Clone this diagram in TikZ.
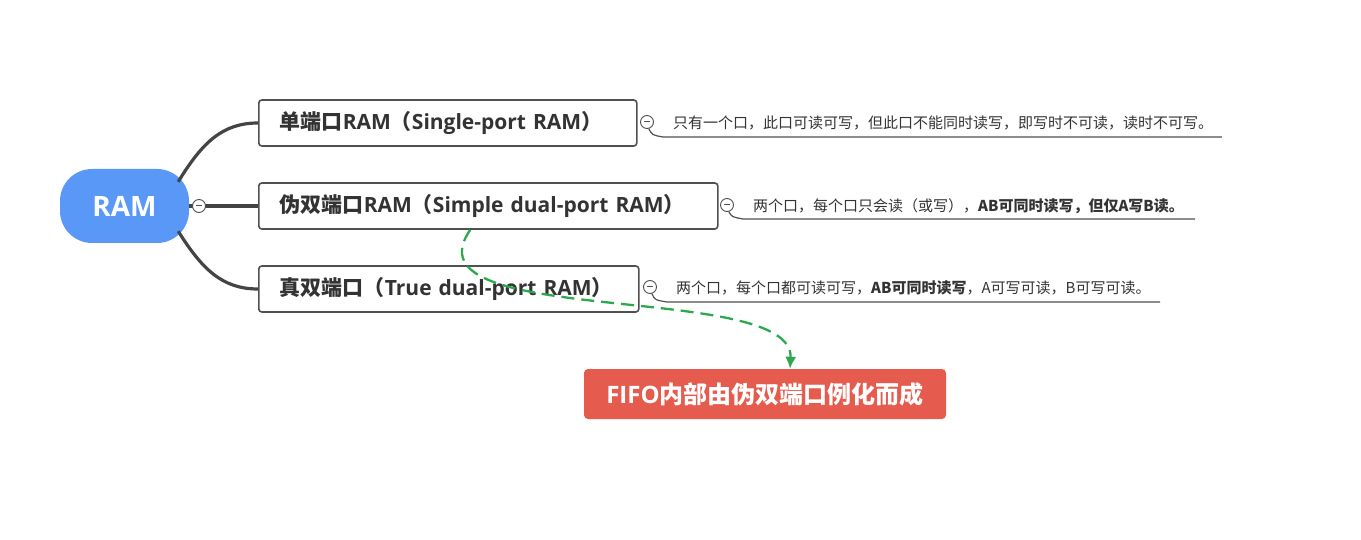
\documentclass[tikz,border=0pt]{standalone}
\usepackage{fontspec}
\setmainfont{Open Sans}
\newfontfamily\cjk{Noto Sans CJK SC}
\usetikzlibrary{arrows.meta}

\definecolor{rootblue}{RGB}{90,152,248}
\definecolor{fifored}{RGB}{229,91,77}
\definecolor{relgreen}{RGB}{45,168,78}
\definecolor{linegray}{RGB}{68,68,68}
\definecolor{boxgray}{RGB}{80,80,80}
\definecolor{textgray}{RGB}{51,51,51}

\newcommand{\zh}[1]{{\cjk #1}}

\tikzset{
  root/.style={fill=rootblue,rounded corners=32pt,minimum width=129pt,
    minimum height=74pt,text=white,font=\bfseries\fontsize{28}{32}\selectfont},
  topic/.style={draw=boxgray,line width=1.6pt,rounded corners=3pt,fill=white,
    anchor=west,minimum height=46pt,inner xsep=21pt,align=left,text=textgray,
    font=\bfseries\fontsize{21}{25}\selectfont},
  branch/.style={draw=linegray,line width=3.2pt},
  fold/.style={circle,draw=boxgray,line width=0.9pt,fill=white,
    minimum size=13pt,inner sep=0pt,
    path picture={\draw[boxgray,line width=1pt]
      ([xshift=-3pt]path picture bounding box.center) --
      ([xshift=3pt]path picture bounding box.center);}},
  noteline/.style={draw=boxgray,line width=1.2pt},
  note/.style={anchor=west,inner sep=0pt,text=textgray,
    font=\cjk\fontsize{15}{18}\selectfont},
  fifo/.style={fill=fifored,rounded corners=4pt,minimum width=362pt,
    minimum height=50pt,text=white,font=\bfseries\fontsize{24}{28}\selectfont},
  relation/.style={draw=relgreen,line width=2.3pt,dash pattern=on 13pt off 7pt,
    -{Latex[length=12pt,width=11pt]}}
}

\begin{document}
\begin{tikzpicture}[x=1pt,y=-1pt]
  \useasboundingbox (0,0) rectangle (1361,540);

  \node[root] (ram) at (124.5,206) {RAM};

  \node[topic,text width=336pt] (b1) at (258,123)
    {\mbox{\zh{单端口}RAM\zh{（}Single-port RAM\zh{）}}};
  \node[topic,text width=417pt] (b2) at (258,206)
    {\mbox{\zh{伪双端口}RAM\zh{（}Simple dual-port RAM\zh{）}}};
  \node[topic,text width=338pt] (b3) at (258,289)
    {\mbox{\zh{真双端口（}True dual-port RAM\zh{）}}};

  % branches
  \draw[branch] ([xshift=-11pt,yshift=-13pt]ram.north east)
    .. controls (202,143) and (222,123) .. (b1.west);
  \draw[branch] (ram.east) -- (b2.west);
  \draw[branch] ([xshift=-11pt,yshift=12pt]ram.south east)
    .. controls (202,269) and (222,289) .. (b3.west);

  \foreach \n/\x/\y in {f0/199/206,f1/647/122,f2/727/205,f3/650/287}
  { \node[fold] (\n) at (\x,\y) {}; }

  % notes
  \coordinate (n1s) at (663,137);
  \coordinate (n1e) at (1222,137);
  \draw[noteline] (f1.-75) .. controls (652,135) .. (n1s) -- (n1e);
  \node[note] (t1) at (673,123)
    {只有一个口，此口可读可写，但此口不能同时读写，即写时不可读，读时不可写。};

  \coordinate (n2s) at (743,219);
  \coordinate (n2e) at (1195,219);
  \draw[noteline] (f2.-75) .. controls (732,217) .. (n2s) -- (n2e);
  \node[note] (t2) at (753,206)
    {两个口，每个口只会读（或写），\textbf{AB可同时读写，但仅A写B读。}};

  \coordinate (n3s) at (667,302);
  \coordinate (n3e) at (1160,302);
  \draw[noteline] (f3.-75) .. controls (655,300) .. (n3s) -- (n3e);
  \node[note] (t3) at (676,288)
    {两个口，每个口都可读可写，\textbf{AB可同时读写}，A可写可读，B可写可读。};

  \node[fifo] (fifo) at (765,394) {FIFO\zh{内部由伪双端口例化而成}};

  %\draw[relation] (b2.south) -- (fifo.north);
  \draw[relation] ([xshift=-18pt]b2.south)
    .. controls (400,330) and (795,280) .. ([xshift=25pt]fifo.north);
\end{tikzpicture}
\end{document}
